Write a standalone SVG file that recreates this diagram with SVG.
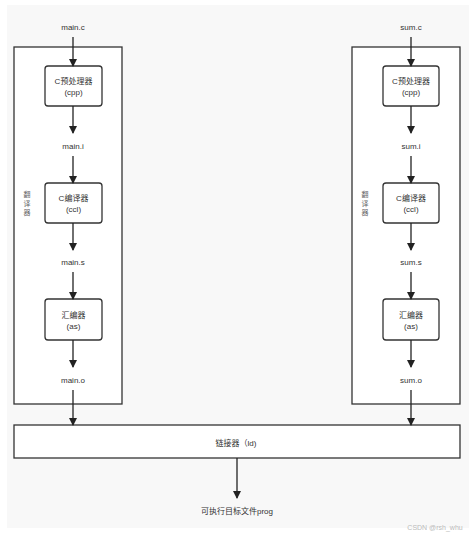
<svg xmlns="http://www.w3.org/2000/svg" width="474" height="535" viewBox="0 0 474 535">
<defs>
<marker id="ah" markerWidth="8" markerHeight="10" refX="7" refY="4" orient="auto" markerUnits="userSpaceOnUse">
<path d="M0,0 L8,4 L0,8 Z" fill="#222"/>
</marker>
<style>
.t{font-family:"Liberation Sans","Noto Sans CJK SC",sans-serif;font-size:8px;fill:#333;text-anchor:middle}
.v{font-family:"Noto Sans CJK SC",sans-serif;font-size:7px;fill:#666;text-anchor:middle}
.box{fill:#fff;stroke:#333;stroke-width:1.3}
.grp{fill:#fff;stroke:#333;stroke-width:1.3}
.c{stroke:#222;stroke-width:1.3;fill:none;marker-end:url(#ah)}
</style>
</defs>
<rect width="474" height="535" fill="#fff"/>
<rect x="7" y="5" width="462" height="523" fill="#f8f8f8"/>
<g id="translator-left"><rect class="grp" x="14" y="47" width="108" height="357"/><text class="v" x="27" y="197">翻</text><text class="v" x="27" y="206">译</text><text class="v" x="27" y="215">器</text></g>
<g id="translator-right"><rect class="grp" x="352" y="47" width="108" height="357"/><text class="v" x="365" y="197">翻</text><text class="v" x="365" y="206">译</text><text class="v" x="365" y="215">器</text></g>
<g id="main-c"><text class="t" x="73" y="30">main.c</text></g>
<g id="cpp-left"><rect class="box" x="45" y="66" width="57" height="40" rx="3"/><text class="t" x="73.5" y="84">C预处理器</text><text class="t" x="73.5" y="95">(cpp)</text></g>
<g id="main-i"><text class="t" x="73" y="149">main.i</text></g>
<g id="ccl-left"><rect class="box" x="45" y="183" width="57" height="40" rx="3"/><text class="t" x="73.5" y="201">C编译器</text><text class="t" x="73.5" y="212">(ccl)</text></g>
<g id="main-s"><text class="t" x="73" y="265">main.s</text></g>
<g id="as-left"><rect class="box" x="45" y="299" width="57" height="41" rx="3"/><text class="t" x="73.5" y="318">汇编器</text><text class="t" x="73.5" y="329">(as)</text></g>
<g id="main-o"><text class="t" x="73" y="383">main.o</text></g>
<g id="sum-c"><text class="t" x="411" y="30">sum.c</text></g>
<g id="cpp-right"><rect class="box" x="383" y="66" width="56" height="40" rx="3"/><text class="t" x="411" y="84">C预处理器</text><text class="t" x="411" y="95">(cpp)</text></g>
<g id="sum-i"><text class="t" x="411" y="149">sum.i</text></g>
<g id="ccl-right"><rect class="box" x="383" y="183" width="56" height="40" rx="3"/><text class="t" x="411" y="201">C编译器</text><text class="t" x="411" y="212">(ccl)</text></g>
<g id="sum-s"><text class="t" x="411" y="265">sum.s</text></g>
<g id="as-right"><rect class="box" x="383" y="299" width="56" height="41" rx="3"/><text class="t" x="411" y="318">汇编器</text><text class="t" x="411" y="329">(as)</text></g>
<g id="sum-o"><text class="t" x="411" y="383">sum.o</text></g>
<g id="linker"><rect class="box" x="14" y="425" width="446" height="33"/><text class="t" x="236" y="446">链接器（ld)</text></g>
<g id="prog"><text class="t" x="237" y="514">可执行目标文件prog</text></g>
<g id="connectors">
<path class="c" d="M73,37 V66"/>
<path class="c" d="M73,106 V133"/>
<path class="c" d="M73,156 V183"/>
<path class="c" d="M73,223 V250"/>
<path class="c" d="M73,272 V299"/>
<path class="c" d="M73,340 V367"/>
<path class="c" d="M73,390 V425"/>
<path class="c" d="M411,37 V66"/>
<path class="c" d="M411,106 V133"/>
<path class="c" d="M411,156 V183"/>
<path class="c" d="M411,223 V250"/>
<path class="c" d="M411,272 V299"/>
<path class="c" d="M411,340 V367"/>
<path class="c" d="M411,390 V425"/>
<path class="c" d="M237,458 V498"/>
</g>
<text x="435" y="530" style="font-family:'Liberation Sans','Noto Sans CJK SC',sans-serif;font-size:7px;fill:#bbb;text-anchor:middle">CSDN @rsh_whu</text>
</svg>
